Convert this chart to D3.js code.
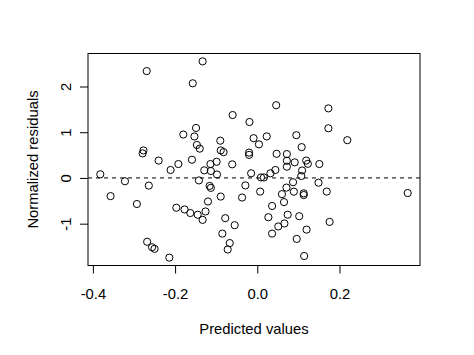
<!DOCTYPE html>
<html>
<head>
<meta charset="utf-8">
<script src="https://cdn.jsdelivr.net/npm/d3@7"></script>
<style>
  html, body { margin: 0; padding: 0; background: #fff; }
  svg { display: block; }
  text { font-family: "Liberation Sans", Arial, sans-serif; fill: #000; }
</style>
</head>
<body>
<svg id="chart" width="474" height="355"></svg>
<script>
// Predicted values (x) and normalized residuals (y)
const predicted = [
  -0.269, -0.133, -0.157, 0.046, -0.060, -0.019, -0.149, -0.180, -0.153, -0.147,
  -0.140, -0.090, -0.089, -0.082, -0.009, 0.023, 0.004, -0.020, -0.020, 0.047,
  0.072, 0.095, 0.108, 0.173, 0.173, 0.219, -0.277, -0.279, -0.240, -0.192,
  -0.159, -0.211, -0.114, -0.099, -0.061, 0.072, 0.091, 0.119, 0.123, 0.151,
  0.072, -0.129, -0.113, -0.098, -0.015, 0.009, 0.016, 0.032, 0.044, 0.109,
  0.107, -0.382, -0.322, -0.264, -0.142, -0.116, -0.113, -0.029, 0.007, 0.071,
  0.087, 0.089, 0.060, 0.113, 0.113, 0.149, 0.169, 0.366, -0.357, -0.293,
  -0.089, -0.037, -0.120, 0.065, 0.036, -0.197, -0.177, -0.163, -0.145, -0.126,
  -0.133, -0.078, 0.027, 0.074, 0.102, -0.055, 0.066, 0.051, -0.085, 0.036,
  0.120, 0.176, 0.096, -0.067, -0.072, 0.114, -0.268, -0.256, -0.250, -0.214
];
const residuals = [
  2.337, 2.550, 2.070, 1.591, 1.376, 1.224, 1.093, 0.950, 0.907, 0.722,
  0.641, 0.815, 0.602, 0.565, 0.870, 0.909, 0.735, 0.554, 0.504, 0.528,
  0.522, 0.935, 0.674, 1.522, 1.087, 0.826, 0.602, 0.537, 0.380, 0.304,
  0.398, 0.174, 0.304, 0.354, 0.298, 0.376, 0.341, 0.380, 0.309, 0.304,
  0.246, 0.167, 0.152, 0.076, 0.102, 0.011, 0.011, 0.102, 0.174, 0.163,
  0.043, 0.080, -0.072, -0.167, -0.054, -0.174, -0.217, -0.163, -0.298, -0.211,
  -0.093, -0.300, -0.354, -0.337, -0.374, -0.104, -0.298, -0.330, -0.398, -0.570,
  -0.407, -0.428, -0.515, -0.528, -0.613, -0.652, -0.689, -0.767, -0.804, -0.733,
  -0.917, -0.880, -0.859, -0.804, -0.837, -1.033, -0.996, -1.061, -1.217, -1.217,
  -1.130, -0.961, -1.333, -1.424, -1.565, -1.707, -1.396, -1.515, -1.550, -1.743
];
const xTicks = [-0.4, -0.2, 0.0, 0.2];
const xTickLabels = ["-0.4", "-0.2", "0.0", "0.2"];
const yTicks = [-1, 0, 1, 2];
const yTickLabels = ["-1", "0", "1", "2"];
const xTitle = "Predicted values";
const yTitle = "Normalized residuals";

const data = predicted.map((x, i) => ({ x, y: residuals[i] }));

const pLeft = 88, pRight = 420, pTop = 53.5, pBottom = 265.5;
const fs = "14.8px";

// R-style 4% range extension
function ext(arr) {
  const [a, b] = d3.extent(arr);
  const d = (b - a) * 0.04;
  return [a - d, b + d];
}
const x = d3.scaleLinear().domain(ext(predicted)).range([pLeft, pRight]);
const y = d3.scaleLinear().domain(ext(residuals)).range([pBottom, pTop]);

const svg = d3.select("#chart");

// zero reference line (dashed)
svg.append("line")
  .attr("x1", pLeft).attr("x2", pRight)
  .attr("y1", y(0)).attr("y2", y(0))
  .attr("stroke", "#000").attr("stroke-width", 1)
  .attr("stroke-dasharray", "4,4");

// points
svg.append("g").selectAll("circle").data(data).join("circle")
  .attr("cx", d => x(d.x)).attr("cy", d => y(d.y))
  .attr("r", 3.6)
  .attr("fill", "none").attr("stroke", "#000").attr("stroke-width", 1);

// box
svg.append("rect")
  .attr("x", pLeft).attr("y", pTop)
  .attr("width", pRight - pLeft).attr("height", pBottom - pTop)
  .attr("fill", "none").attr("stroke", "#000").attr("stroke-width", 1);

// x axis
const xAxis = d3.axisBottom(x).tickValues(xTicks)
  .tickFormat((d, i) => xTickLabels[i]).tickSize(8);
const gx = svg.append("g").attr("transform", `translate(0,${pBottom})`).call(xAxis);
gx.select(".domain").remove();
gx.selectAll(".tick line").attr("stroke", "#000");
gx.selectAll(".tick text")
  .style("font-size", fs).style("font-family", "Liberation Sans, Arial, sans-serif")
  .attr("dy", null).attr("y", 33);

// y axis
const yAxis = d3.axisLeft(y).tickValues(yTicks)
  .tickFormat((d, i) => yTickLabels[i]).tickSize(8);
const gy = svg.append("g").attr("transform", `translate(${pLeft},0)`).call(yAxis);
gy.select(".domain").remove();
gy.selectAll(".tick line").attr("stroke", "#000");
gy.selectAll(".tick text")
  .style("font-size", fs).style("font-family", "Liberation Sans, Arial, sans-serif")
  .attr("x", null).attr("dy", null)
  .attr("text-anchor", "middle")
  .attr("transform", "translate(-17,0) rotate(-90)");

// titles
svg.append("text")
  .attr("x", (pLeft + pRight) / 2).attr("y", 334)
  .attr("text-anchor", "middle")
  .style("font-size", fs)
  .text(xTitle);

svg.append("text")
  .attr("transform", `translate(38,${(pTop + pBottom) / 2}) rotate(-90)`)
  .attr("text-anchor", "middle")
  .style("font-size", fs)
  .text(yTitle);
</script>
</body>
</html>
